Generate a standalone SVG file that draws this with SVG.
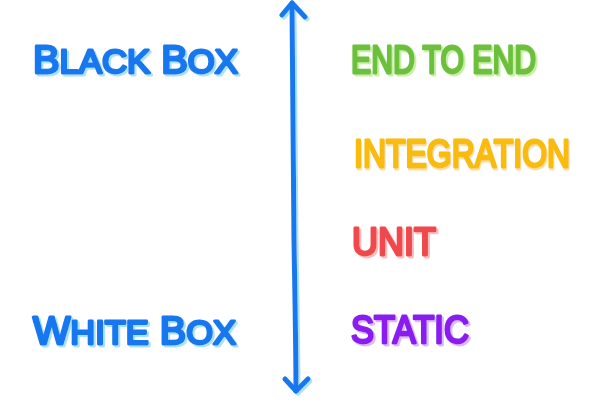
<svg xmlns="http://www.w3.org/2000/svg" width="600" height="400" viewBox="0 0 600 400">
<defs>
<filter id="shB" filterUnits="userSpaceOnUse" x="0" y="0" width="600" height="400"><feOffset in="SourceAlpha" dx="1.6" dy="1.6" result="o"/><feFlood flood-color="#a9e3fb"/><feComposite in2="o" operator="in" result="s"/><feMerge><feMergeNode in="s"/><feMergeNode in="SourceGraphic"/></feMerge></filter>
<filter id="shG" filterUnits="userSpaceOnUse" x="0" y="0" width="600" height="400"><feOffset in="SourceAlpha" dx="1.6" dy="1.6" result="o"/><feFlood flood-color="#c8f0a4"/><feComposite in2="o" operator="in" result="s"/><feMerge><feMergeNode in="s"/><feMergeNode in="SourceGraphic"/></feMerge></filter>
<filter id="shY" filterUnits="userSpaceOnUse" x="-400" y="-200" width="1000" height="400"><feOffset in="SourceAlpha" dx="1.6" dy="1.6" result="o"/><feFlood flood-color="#fde0a4"/><feComposite in2="o" operator="in" result="s"/><feMerge><feMergeNode in="s"/><feMergeNode in="SourceGraphic"/></feMerge></filter>
<filter id="shR" filterUnits="userSpaceOnUse" x="0" y="0" width="600" height="400"><feOffset in="SourceAlpha" dx="1.6" dy="1.6" result="o"/><feFlood flood-color="#fbbdbd"/><feComposite in2="o" operator="in" result="s"/><feMerge><feMergeNode in="s"/><feMergeNode in="SourceGraphic"/></feMerge></filter>
<filter id="shP" filterUnits="userSpaceOnUse" x="0" y="0" width="600" height="400"><feOffset in="SourceAlpha" dx="1.6" dy="1.6" result="o"/><feFlood flood-color="#ddb8fa"/><feComposite in2="o" operator="in" result="s"/><feMerge><feMergeNode in="s"/><feMergeNode in="SourceGraphic"/></feMerge></filter>
</defs>
<style>
.t{font-family:"Liberation Sans",Arial,sans-serif;font-weight:normal;font-size:39px;stroke-width:2.8;stroke-linejoin:round;stroke-linecap:round}
.blue{fill:#1677ef;stroke:#1677ef;filter:url(#shB)}
.green{fill:#6cc03c;stroke:#6cc03c;filter:url(#shG)}
.yellow{fill:#f9bb0b;stroke:#f9bb0b;filter:url(#shY)}
.red{fill:#f04a4d;stroke:#f04a4d;filter:url(#shR)}
.purple{fill:#8a1ef0;stroke:#8a1ef0;filter:url(#shP)}
.arrow{fill:none;stroke:#1677ef;stroke-width:5;stroke-linecap:round;stroke-linejoin:round;filter:url(#shB)}
</style>
<rect width="600" height="400" fill="#ffffff"/>
<g id="axis" class="arrow">
<path d="M292,3 C292,80 293,160 294,240 C295,300 296,350 296,391"/>
<path d="M282,15 L292,3 L305,17"/>
<path d="M285,379 L296,391 L308,379"/>
</g>
<g id="black-box">
<text class="t blue" x="33" y="73" textLength="205" lengthAdjust="spacingAndGlyphs">B<tspan font-size="34">LACK</tspan> B<tspan font-size="34">OX</tspan></text>
</g>
<g id="white-box">
<text class="t blue" x="33" y="344" textLength="203" lengthAdjust="spacingAndGlyphs">W<tspan font-size="34">HITE</tspan> B<tspan font-size="34">OX</tspan></text>
</g>
<g id="end-to-end">
<text class="t green" x="351" y="73" textLength="185" lengthAdjust="spacingAndGlyphs">END TO END</text>
</g>
<g id="integration" transform="translate(354,167) scale(0.82,1)">
<text class="t yellow" x="0" y="0">INTEGRATION</text>
</g>
<g id="unit">
<text class="t red" x="352" y="255" font-size="36" textLength="84" lengthAdjust="spacingAndGlyphs">UNIT</text>
</g>
<g id="static">
<text class="t purple" x="351" y="343" textLength="118" lengthAdjust="spacingAndGlyphs">STATIC</text>
</g>
</svg>
